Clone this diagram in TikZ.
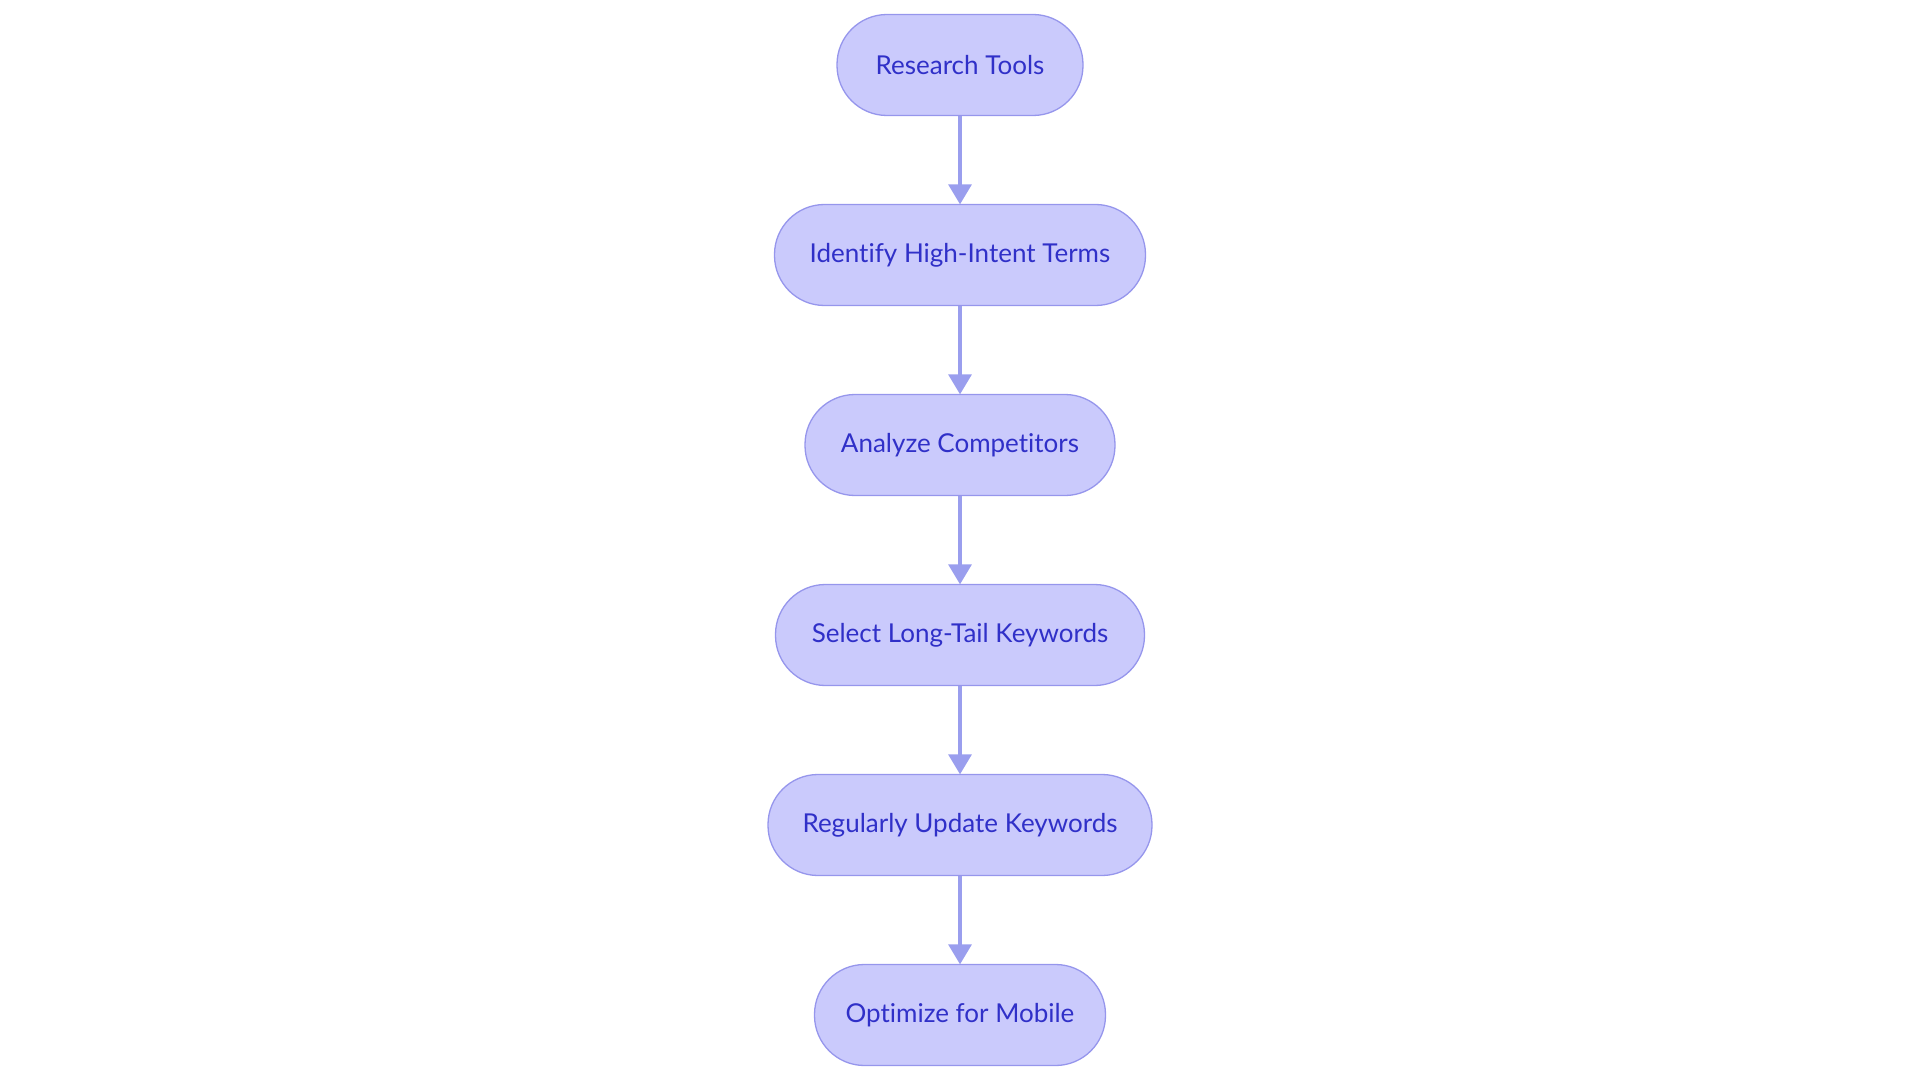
\documentclass[tikz,border=0pt]{standalone}
\usepackage{fontspec}
\setmainfont[Ligatures={NoCommon,NoRare}]{Lato}
\usetikzlibrary{arrows.meta}
\definecolor{boxfill}{RGB}{202,202,252}
\definecolor{boxdraw}{RGB}{150,150,236}
\definecolor{boxtext}{RGB}{48,48,200}
\definecolor{arrowcol}{RGB}{154,158,238}
\tikzset{
  stepbox/.style={draw=boxdraw, fill=boxfill, line width=1.3pt, rounded corners=50pt,
    minimum height=101pt, inner xsep=0pt, text=boxtext,
    font=\fontsize{26}{30}\selectfont},
  flow/.style={draw=arrowcol, line width=3.2pt, -{Triangle[length=20pt,width=23pt]}, shorten >=-0.5pt}
}
\begin{document}
\begin{tikzpicture}[x=1pt,y=-1pt]
\useasboundingbox (0,0) rectangle (1920,1083);
\node[stepbox, minimum width=246pt] (n1) at (960,65) {Research Tools};
\node[stepbox, minimum width=371pt] (n2) at (960,255) {Identify High-Intent Terms};
\node[stepbox, minimum width=310pt] (n3) at (960,445) {Analyze Competitors};
\node[stepbox, minimum width=369pt] (n4) at (960,635) {Select Long-Tail Keywords};
\node[stepbox, minimum width=384pt] (n5) at (960,825) {Regularly Update Keywords};
\node[stepbox, minimum width=291pt] (n6) at (960,1015) {Optimize for Mobile};
\draw[flow] (n1) -- (n2);
\draw[flow] (n2) -- (n3);
\draw[flow] (n3) -- (n4);
\draw[flow] (n4) -- (n5);
\draw[flow] (n5) -- (n6);
\end{tikzpicture}
\end{document}
